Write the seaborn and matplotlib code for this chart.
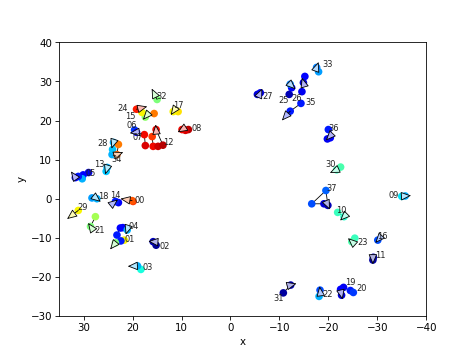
import numpy as np
import pandas as pd
import matplotlib
matplotlib.use('Agg')
import matplotlib.pyplot as plt
import seaborn as sns

# trajectory ids, points (x, y) and colour value of each point (jet scale 0..1)
traj_ids = ['00', '01', '02', '03', '04', '05', '06', '07', '08', '09',
            '10', '11', '12', '13', '14', '15', '16', '17', '18', '19',
            '20', '21', '22', '23', '24', '25', '26', '27', '28', '29',
            '30', '31', '32', '33', '34', '35', '36', '37']
traj_x = [[19.9, 20.1], [21.7, 22.4, 23.5], [15.2, 15.8], [18.3, 19.0],
          [23.2, 22.5, 22.0, 21.1], [29.0, 30.1, 30.3, 31.1, 31.7],
          [19.6, 19.2], [17.6, 17.4], [8.6, 9.2, 9.9], [-35.0, -35.7],
          [-21.9, -23.2], [-29.2, -29.1], [16.0, 15.8, 14.8, 13.8, 15.2],
          [25.2, 25.4], [22.9, 23.5], [17.2, 17.4], [-30.1], [10.7, 11.7],
          [28.3, 27.3], [-23.1, -22.5, -22.7], [-24.5, -25.1], [27.6, 28.6],
          [-18.1, -18.3], [-25.4, -24.8], [15.6, 18.1, 19.2],
          [-12.0, -12.5, -12.2], [-15.2, -14.6, -14.9], [-5.5, -6.1],
          [24.2, 24.1, 23.9], [31.1], [-22.5, -21.7], [-10.8, -12.3], [15.0],
          [-18.0, -17.6], [22.9, 23.2], [-14.4, -12.2], [-20.0, -20.4, -19.8],
          [-19.1, -16.6, -19.5, -19.9]]
traj_y = [[-0.7, -0.5], [-10.6, -10.8, -11.3], [-11.9, -11.0], [-18.1, -17.2],
          [-9.3, -7.5, -7.4, -8.0], [6.7, 6.1, 5.1, 5.7, 5.4],
          [17.6, 17.0], [16.4, 13.6], [17.7, 17.5, 17.7], [0.6, 0.7],
          [-3.5, -4.6], [-15.0, -15.7], [15.9, 13.4, 13.4, 13.7, 17.7],
          [8.0, 7.0], [-1.0, -0.7], [21.6, 20.9], [-10.6], [22.3, 22.3],
          [0.2, 0.0], [-22.7, -23.2, -24.7], [-23.5, -24.0], [-4.6, -7.1],
          [-25.0, -23.4], [-10.1, -11.0], [21.8, 22.1, 22.9],
          [26.7, 28.4, 29.3], [31.3, 27.4, 29.7], [26.7, 27.1],
          [11.3, 12.6, 14.4], [-3.0], [8.1, 7.4], [-24.1, -22.1], [25.4],
          [32.5, 33.6], [13.9, 11.3], [24.4, 22.4], [17.7, 15.6, 15.3],
          [-1.3, -1.3, 2.1, -1.7]]
traj_c = [[0.85, 0.82], [0.65, 0.15, 0.5], [0.02, 0.05], [0.38, 0.3],
          [0.15, 0.12, 0.12, 0.3], [0.1, 0.12, 0.3, 0.15, 0.12],
          [0.18, 0.12], [0.9, 0.92], [0.95, 0.92, 0.9], [0.35, 0.3],
          [0.42, 0.4], [0.05, 0.03], [0.85, 0.9, 0.93, 0.95, 0.9],
          [0.3, 0.32], [0.12, 0.15], [0.5, 0.52], [0.2], [0.67, 0.65],
          [0.28, 0.3], [0.1, 0.12, 0.08], [0.15, 0.18], [0.55, 0.5],
          [0.3, 0.2], [0.42, 0.44], [0.78, 0.65, 0.88],
          [0.05, 0.12, 0.25], [0.12, 0.1, 0.08], [0.08, 0.1],
          [0.3, 0.32, 0.3], [0.65], [0.44, 0.42], [0.03, 0.05], [0.5],
          [0.28, 0.25], [0.78, 0.8], [0.15, 0.15], [0.15, 0.12, 0.1],
          [0.08, 0.2, 0.22, 0.05]]

# heading arrow tip for each trajectory (None = no arrow)
arrow_x = [22.5, 24.6, 16.8, 21.0, 21.4, 32.6, 20.6, None, 10.8, -36.9,
           -22.4, -29.1, 15.3, 25.6, 23.0, 17.9, -29.6, 12.2, 26.5, -22.9,
           None, 29.1, -18.2, -24.0, 17.0, -13.3, -14.6, -6.5, 24.3, 33.4,
           -20.3, -13.5, 16.1, -18.0, 21.9, -10.5, -19.5, -20.3]
arrow_y = [0.0, -13.0, -10.9, -17.3, -9.2, 7.0, 16.8, None, 17.0, 0.8,
           -5.6, -16.8, 19.0, 6.2, -0.2, 20.2, -11.3, 21.4, -0.8, -25.8,
           None, -6.2, -22.4, -10.1, 23.6, 28.0, 31.0, 28.2, 12.8, -5.2,
           6.6, -21.7, 28.2, 35.0, 11.9, 20.0, 14.9, -2.8]

label_x = [18.6, 20.5, 13.5, 17.0, 19.8, 28.6, 20.1, 19.0, 6.9, -33.4,
           -22.7, -30.6, 12.7, 26.8, 23.5, 20.4, -31.1, 10.7, 26.0, -24.4,
           -26.8, 26.8, -19.9, -26.9, 22.0, -10.8, -13.6, -7.6, 26.2, 30.3,
           -20.4, -9.8, 14.0, -19.9, 23.2, -16.3, -21.0, -20.6]
label_y = [-0.3, -10.3, -12.3, -17.5, -7.0, 6.5, 18.8, 15.7, 18.0, 1.0,
           -3.0, -14.4, 14.4, 8.8, 1.0, 21.0, -9.7, 23.9, 0.7, -21.3,
           -23.0, -8.0, -24.4, -11.2, 23.2, 25.2, 25.6, 26.3, 14.1, -2.3,
           8.9, -25.4, 26.2, 34.4, 10.0, 24.8, 18.1, 2.7]

rows = []
for tid, xs, ys, cs in zip(traj_ids, traj_x, traj_y, traj_c):
    for i, (x, y, c) in enumerate(zip(xs, ys, cs)):
        rows.append({'traj': tid, 'step': i, 'x': x, 'y': y, 'c': c})
df = pd.DataFrame(rows)

cmap = plt.get_cmap('jet')

fig, ax = plt.subplots(figsize=(6.4, 4.8), dpi=74)

multi = df.groupby('traj')['step'].transform('count') > 1
sns.lineplot(data=df[multi], x='x', y='y', units='traj', estimator=None,
             sort=False, color='k', lw=0.8, ax=ax, legend=False, zorder=2)
sns.scatterplot(data=df, x='x', y='y', hue='c', palette=cmap,
                hue_norm=(0, 1), s=55, edgecolor='none', legend=False,
                ax=ax, zorder=3)

for i, tid in enumerate(traj_ids):
    if arrow_x[i] is not None:
        r, g, b, _ = cmap(traj_c[i][-1])
        light = (0.7 + 0.3 * r, 0.7 + 0.3 * g, 0.7 + 0.3 * b)
        ax.annotate('', xy=(arrow_x[i], arrow_y[i]),
                    xytext=(traj_x[i][-1], traj_y[i][-1]),
                    arrowprops=dict(arrowstyle='-|>,head_length=0.7,head_width=0.3',
                                    mutation_scale=12, lw=0.8, ec='k',
                                    fc=light, shrinkA=0, shrinkB=0),
                    zorder=4)
    ax.text(label_x[i], label_y[i], tid, fontsize=8, ha='center',
            va='center', color='#222222', zorder=5)

ax.set_xlim(35, -40)
ax.set_ylim(-30, 40)
ax.set_xticks(np.arange(30, -41, -10))
ax.set_yticks(np.arange(-30, 41, 10))
ax.set_xlabel('x')
ax.set_ylabel('y')

fig.savefig('out.png', dpi=74)
